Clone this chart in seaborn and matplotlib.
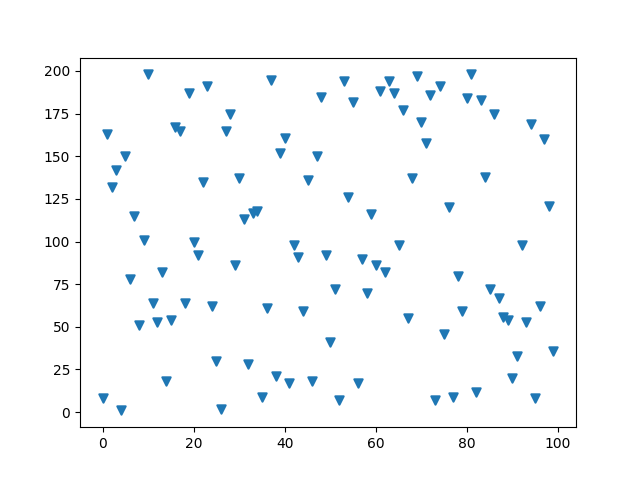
import numpy as np
import pandas as pd
import seaborn as sns
import matplotlib
matplotlib.use("Agg")
import matplotlib.pyplot as plt

# x positions 0..99, y values
x_vals = list(range(100))
y_vals = [8, 163, 132, 142, 1, 150, 78, 115, 51, 101,
          198, 64, 53, 82, 18, 54, 167, 165, 64, 187,
          100, 92, 135, 191, 62, 30, 2, 165, 175, 86,
          137, 113, 28, 117, 118, 9, 61, 195, 21, 152,
          161, 17, 98, 91, 59, 136, 18, 150, 185, 92,
          41, 72, 7, 194, 126, 182, 17, 90, 70, 116,
          86, 188, 82, 194, 187, 98, 177, 55, 137, 197,
          170, 158, 186, 7, 191, 46, 120, 9, 80, 59,
          184, 198, 12, 183, 138, 72, 175, 67, 56, 54,
          20, 33, 98, 53, 169, 8, 62, 160, 121, 36]

df = pd.DataFrame({"x": x_vals, "y": y_vals})

fig, ax = plt.subplots(figsize=(6.4, 4.8), dpi=100)
# matplotlib-style marker: face-coloured edge of width 1.5
sns.scatterplot(data=df, x="x", y="y", marker="v", s=36, color="#1f77b4",
                edgecolor="#1f77b4", linewidth=1.5, ax=ax)
ax.set_xlabel("")
ax.set_ylabel("")

fig.savefig("out.png")
